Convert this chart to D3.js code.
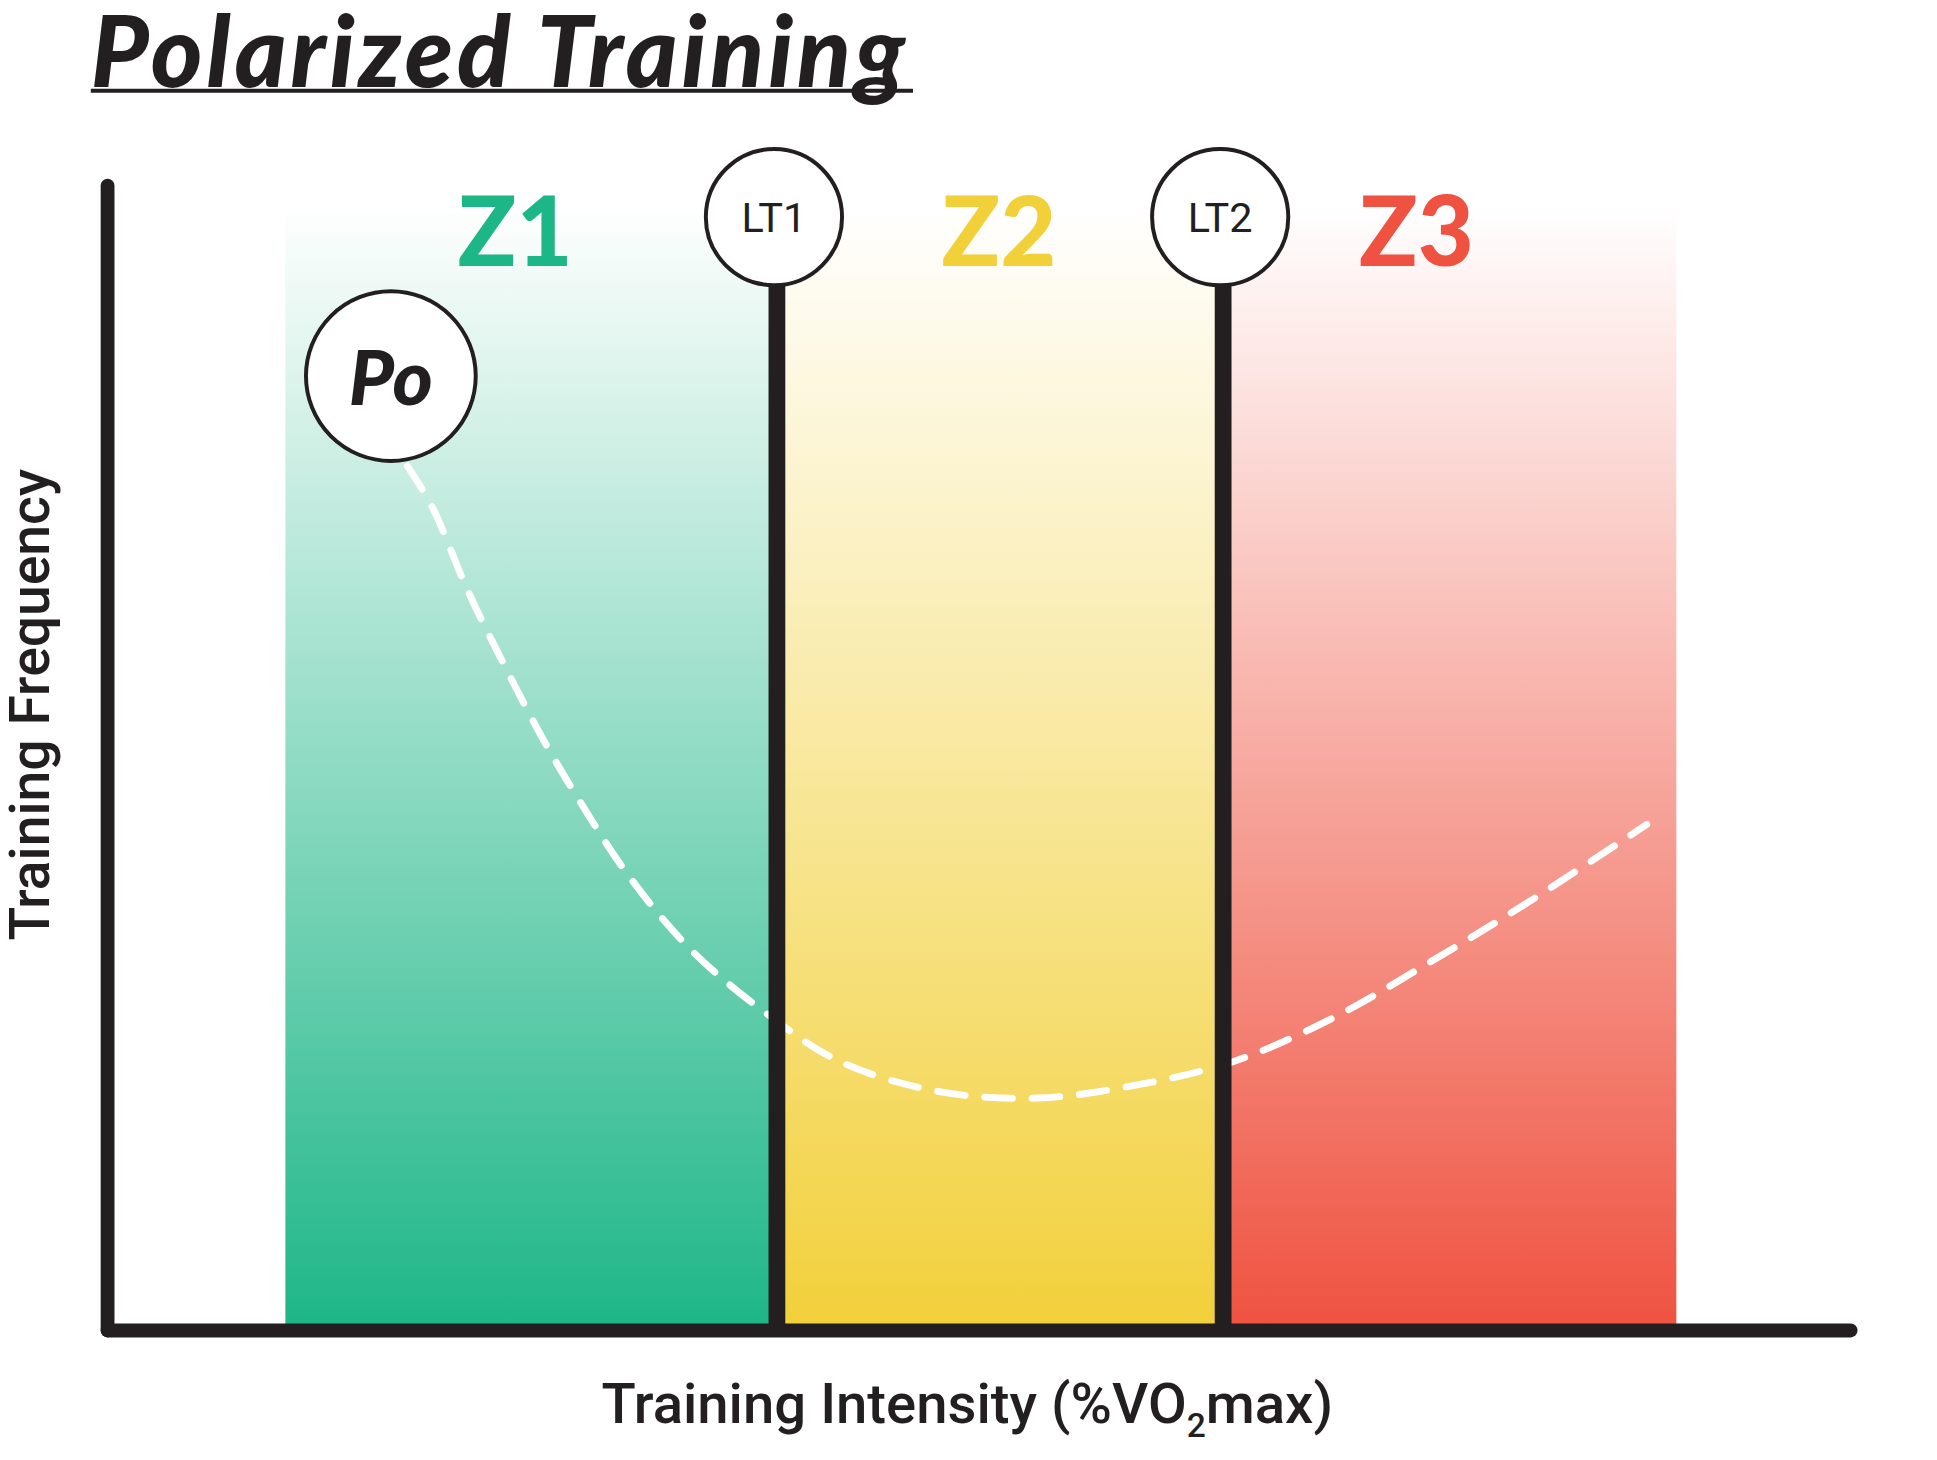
<!DOCTYPE html><html><head><meta charset="utf-8"><script src="https://cdn.jsdelivr.net/npm/d3@7"></script>
<style>body{margin:0;background:#fff}</style></head><body><svg id="c" width="1937" height="1460"></svg>
<script>
const zones=["Z1","Z2","Z3"];
const zoneStart=[10.2,38.05,64.0];
const zoneEnd=[38.05,64.0,90.0];
const zoneColors=["#1db686","#f2d03a","#ef5240"];
const thresholds=["LT1","LT2"];
const thresholdX=[38.4,64.0];
const curveX=[17.2,18.6,20.7,22.8,25.0,27.1,29.9,33.5,37.7,42.0,47.6,53.3,58.9,64.6,70.3,75.9,81.6,88.3];
const curveY=[75.5,72.0,64.5,58.0,51.6,46.2,39.7,33.2,27.8,23.5,20.9,20.3,21.4,23.5,27.3,32.2,37.5,44.2];
const root=d3.select("#c");
const svg=root.append("g").attr("transform","scale(0.987)");
const x=d3.scaleLinear().domain([0,100]).range([109,1875]);
const y=d3.scaleLinear().domain([0,100]).range([1348,188]);
const defs=root.append("defs");
zones.forEach((z,i)=>{const g=defs.append("linearGradient").attr("id","g"+i).attr("x1",0).attr("x2",0).attr("y1",0).attr("y2",1);
g.append("stop").attr("offset","0%").attr("stop-color",zoneColors[i]).attr("stop-opacity",0);
g.append("stop").attr("offset","100%").attr("stop-color",zoneColors[i]).attr("stop-opacity",1);});
svg.selectAll(".band").data(zones).join("rect").attr("x",(d,i)=>x(zoneStart[i])).attr("width",(d,i)=>x(zoneEnd[i])-x(zoneStart[i]))
 .attr("y",y(98.4)).attr("height",y(0)-y(98.4)).attr("fill",(d,i)=>`url(#g${i})`);
svg.append("path").datum(curveX.map((v,i)=>[v,curveY[i]])).attr("d",d3.line().x(d=>x(d[0])).y(d=>y(d[1])).curve(d3.curveCatmullRom))
 .attr("fill","none").attr("stroke","#fff").attr("stroke-width",7).attr("stroke-dasharray","28 20").attr("stroke-linecap","round");
svg.selectAll(".lt").data(thresholds).join("line").attr("x1",(d,i)=>x(thresholdX[i])).attr("x2",(d,i)=>x(thresholdX[i]))
 .attr("y1",220).attr("y2",y(0)).attr("stroke","#231f20").attr("stroke-width",17);
svg.append("line").attr("x1",x(0)).attr("x2",x(0)).attr("y1",y(100)).attr("y2",y(0)).attr("stroke","#231f20").attr("stroke-width",14).attr("stroke-linecap","round");
svg.append("line").attr("x1",x(0)).attr("x2",x(100)).attr("y1",y(0)).attr("y2",y(0)).attr("stroke","#231f20").attr("stroke-width",14).attr("stroke-linecap","round");
svg.selectAll(".ltc").data(thresholds).join("circle").attr("cx",(d,i)=>x(thresholdX[i])-3).attr("cy",220).attr("r",69).attr("fill","#fff").attr("stroke","#231f20").attr("stroke-width",4);
svg.selectAll(".ltt").data(thresholds).join("text").attr("x",(d,i)=>x(thresholdX[i])-3).attr("y",235).attr("text-anchor","middle")
 .attr("font-family","Roboto").attr("font-size",42).attr("fill","#231f20").text(d=>d);
svg.append("circle").attr("cx",396).attr("cy",381).attr("r",86).attr("fill","#fff").attr("stroke","#231f20").attr("stroke-width",4);
svg.append("text").attr("x",396).attr("y",410).attr("text-anchor","middle").attr("font-family","Lato").attr("font-weight",900).attr("font-style","italic").attr("font-size",78).attr("fill","#231f20").text("Po");
const zoneLabelX=[522,1012,1435];
svg.selectAll(".zl").data(zones).join("text").attr("x",(d,i)=>zoneLabelX[i]).attr("y",269).attr("text-anchor","middle")
 .attr("font-family","Lato").attr("font-weight",900).attr("font-size",98).attr("fill",(d,i)=>zoneColors[i]).text(d=>d);
svg.append("text").attr("x",92).attr("y",88).attr("font-family","Lato").attr("font-weight",900).attr("font-style","italic").attr("font-size",100).attr("letter-spacing",4).attr("fill","#231f20").text("Polarized Training");
svg.append("line").attr("x1",92).attr("x2",925).attr("y1",92).attr("y2",92).attr("stroke","#231f20").attr("stroke-width",4);
svg.append("text").attr("transform","translate(50,714) rotate(-90)").attr("text-anchor","middle").attr("font-family","Roboto").attr("font-weight",500).attr("font-size",56).attr("fill","#231f20").text("Training Frequency");
const xl=svg.append("text").attr("x",980).attr("y",1442).attr("text-anchor","middle").attr("font-family","Roboto").attr("font-weight",500).attr("font-size",57).attr("fill","#231f20");
xl.append("tspan").text("Training Intensity (%VO");
xl.append("tspan").attr("font-size",34).attr("dy",14).text("2");
xl.append("tspan").attr("dy",-14).text("max)");
</script></body></html>
